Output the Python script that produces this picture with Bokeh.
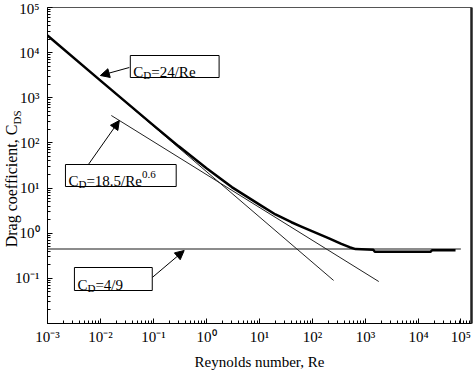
from bokeh.plotting import figure
from bokeh.models import (Arrow, NormalHead, BoxAnnotation, Label, FixedTicker,
                          CustomJSTickFormatter, LogAxis)
from bokeh.embed import file_html
from bokeh.resources import INLINE

# ---------------- data ----------------
re_std = [0.001, 0.01, 0.1, 0.3, 1, 3, 10, 20, 40, 60, 100, 200, 350, 500, 650,
          1400, 1500, 17000, 18000, 50000]
cd_std = [24000, 2400, 245, 84, 27.5, 10.5, 4.3, 2.6, 1.75, 1.42, 1.1, 0.78, 0.58,
          0.49, 0.445, 0.43, 0.39, 0.39, 0.42, 0.42]

re_stokes = [0.001, 250]
cd_stokes = [24000, 0.09]

re_inter = [0.016, 1780]
cd_inter = [405, 0.085]

re_newton = [0.001, 63000]
cd_newton = [4 / 9, 4 / 9]

x_exps = [-3, -2, -1, 0, 1, 2, 3, 4, 5]
y_exps = [-2, -1, 0, 1, 2, 3, 4, 5]
y_unlabelled = [-2]

x_title = "Reynolds number, Re"
y_title_main = "Drag coefficient, C"
y_title_sub = "DS"

# ---------------- figure ----------------
p = figure(width=474, height=373, x_axis_type="log", y_axis_type="log",
           x_range=(1e-3, 1e5), y_range=(1e-2, 1e5),
           output_backend="svg", toolbar_location=None,
           min_border_left=46, min_border_right=3, min_border_top=7,
           min_border_bottom=50)
p.grid.visible = False
p.outline_line_color = "#555555"
p.outline_line_width = 1
p.background_fill_color = "white"
p.border_fill_color = "white"

FONT = "Liberation Serif"

def minors(exps):
    return [m * 10.0 ** e for e in exps[:-1] for m in range(2, 10)]

SUP_JS = """
const sup = {'-':'\u207b','0':'\u2070','1':'\u00b9','2':'\u00b2','3':'\u00b3','4':'\u2074',
             '5':'\u2075','6':'\u2076','7':'\u2077','8':'\u2078','9':'\u2079'};
let e = Math.round(Math.log10(tick));
if (Math.abs(Math.log10(tick) - e) > 0.01) { e = Math.ceil(Math.log10(tick)); }
if (skip.includes(e)) { return ''; }
return '10' + String(e).split('').map(c => sup[c]).join('');
"""

# last x label sits just inside the frame edge (as in the cropped original)
x_label_pos = [10.0 ** e for e in x_exps[:-1]] + [10.0 ** 4.8]
p.xaxis.ticker = FixedTicker(ticks=x_label_pos, minor_ticks=minors(x_exps))
p.yaxis.ticker = FixedTicker(ticks=[10.0 ** e for e in y_exps], minor_ticks=minors(y_exps))
p.xaxis.formatter = CustomJSTickFormatter(code=SUP_JS, args=dict(skip=[]))
p.yaxis.formatter = CustomJSTickFormatter(code=SUP_JS, args=dict(skip=y_unlabelled))

for ax in (p.xaxis, p.yaxis):
    ax.major_tick_in = 5
    ax.major_tick_out = 0
    ax.minor_tick_in = 3
    ax.minor_tick_out = 0
    ax.axis_line_color = "black"
    ax.major_tick_line_color = "black"
    ax.minor_tick_line_color = "black"
    ax.major_label_text_font = FONT
    ax.major_label_text_font_size = "15px"
    ax.major_label_text_color = "black"
p.xaxis.major_label_standoff = 5
p.yaxis.major_label_standoff = 8

p.xaxis.axis_label = x_title
p.xaxis.axis_label_text_font = FONT
p.xaxis.axis_label_text_font_size = "15px"
p.xaxis.axis_label_text_font_style = "normal"
p.xaxis.axis_label_text_color = "black"
p.xaxis.axis_label_standoff = 6

# heavier right-hand frame edge, as in the original
right_edge = LogAxis(ticker=FixedTicker(ticks=[], minor_ticks=[]),
                     axis_line_color="#222222", axis_line_width=2.5,
                     major_tick_in=0, major_tick_out=0, minor_tick_in=0, minor_tick_out=0,
                     major_label_standoff=0)
p.add_layout(right_edge, "right")

# ---------------- lines ----------------
p.line(re_newton, cd_newton, line_color="#666666", line_width=1.5)
p.line(re_stokes, cd_stokes, line_color="#222222", line_width=1)
p.line(re_inter, cd_inter, line_color="#222222", line_width=1)
p.line(re_std, cd_std, line_color="black", line_width=2.5, line_join="round")

# ---------------- layout helpers (reference pixel positions -> data) ----------------
def to_x(px):
    return 10 ** (-3 + 8 * (px - 46) / 425)

def to_y(py):
    return 10 ** (5 - 7 * (py - 7) / 316)

W = {'C': 0.667, 'D': 0.722, 'S': 0.556, '=': 0.564, '/': 0.278, 'R': 0.667,
     'e': 0.444, '.': 0.25, '-': 0.333, 'a': 0.444, 'c': 0.444, 'f': 0.333,
     'g': 0.5, 'i': 0.278, 'n': 0.5, 'o': 0.5, 'r': 0.333, 't': 0.278, ',': 0.25,
     ' ': 0.25}
def width(txt, size):
    return sum(W.get(ch, 0.5) for ch in txt) * size

# ---------------- y-axis title (with subscript) as outer tick-label axes ----------------
YL = 16
SUBL = 11
main_len = width(y_title_main, YL)
sub_len = width(y_title_sub, SUBL)
main_bottom = 247
main_center = main_bottom - main_len / 2
sub_center = main_bottom - main_len - sub_len / 2

def title_axis(pos_py, text, size, standoff):
    ax = LogAxis(ticker=FixedTicker(ticks=[to_y(pos_py)], minor_ticks=[]),
                 formatter=CustomJSTickFormatter(code="return label;", args=dict(label=text)),
                 axis_line_color=None, major_tick_line_color=None,
                 minor_tick_line_color=None, major_tick_in=0, major_tick_out=0,
                 minor_tick_in=0, minor_tick_out=0,
                 major_label_orientation="parallel", major_label_standoff=standoff,
                 major_label_text_font=FONT, major_label_text_font_size=f"{size}px",
                 major_label_text_color="black")
    p.add_layout(ax, "left")

title_axis(sub_center, y_title_sub, SUBL, -11)
title_axis(main_center, y_title_main, YL, -12)

# ---------------- annotations inside the frame ----------------
MAIN = 15
SMALL = 11

def txt(x, y, text, size, xo=0, yo=0):
    p.add_layout(Label(x=x, y=y, x_offset=xo, y_offset=yo, text=text,
                       text_font=FONT, text_font_size=f"{size}px", text_color="black",
                       text_align="left", text_baseline="alphabetic"))

def equation(box, text_x, baseline, parts):
    l, r, t, b = box
    p.add_layout(BoxAnnotation(left=to_x(l), right=to_x(r), top=to_y(t), bottom=to_y(b),
                               fill_color="white", fill_alpha=1.0,
                               line_color="black", line_width=1, line_alpha=1.0))
    off = 0.0
    for t_, kind in parts:
        size = MAIN if kind == "main" else SMALL
        yoff = 0 if kind == "main" else (-3 if kind == "sub" else 6)
        txt(to_x(text_x), to_y(baseline), t_, size, xo=off, yo=yoff)
        off += width(t_, size)

def arrow(x0, y0, x1, y1):
    p.add_layout(Arrow(x_start=to_x(x0), y_start=to_y(y0), x_end=to_x(x1), y_end=to_y(y1),
                       line_color="black", line_width=1,
                       end=NormalHead(size=9, line_color="black", fill_color="black",
                                      line_width=1)))

arrow(128, 67, 99, 75)
arrow(87, 164, 118, 120)
arrow(151, 277, 183, 250)

equation((129, 218, 55, 77), 132, 71.5, [("C", "main"), ("D", "sub"), ("=24/Re", "main")])
equation((64, 175, 164, 186), 67, 180, [("C", "main"), ("D", "sub"), ("=18.5/Re", "main"),
                                        ("0.6", "sup")])
equation((73, 151, 267, 290), 76, 284, [("C", "main"), ("D", "sub"), ("=4/9", "main")])

open("out.html", "w", encoding="utf-8").write(file_html(p, INLINE))
